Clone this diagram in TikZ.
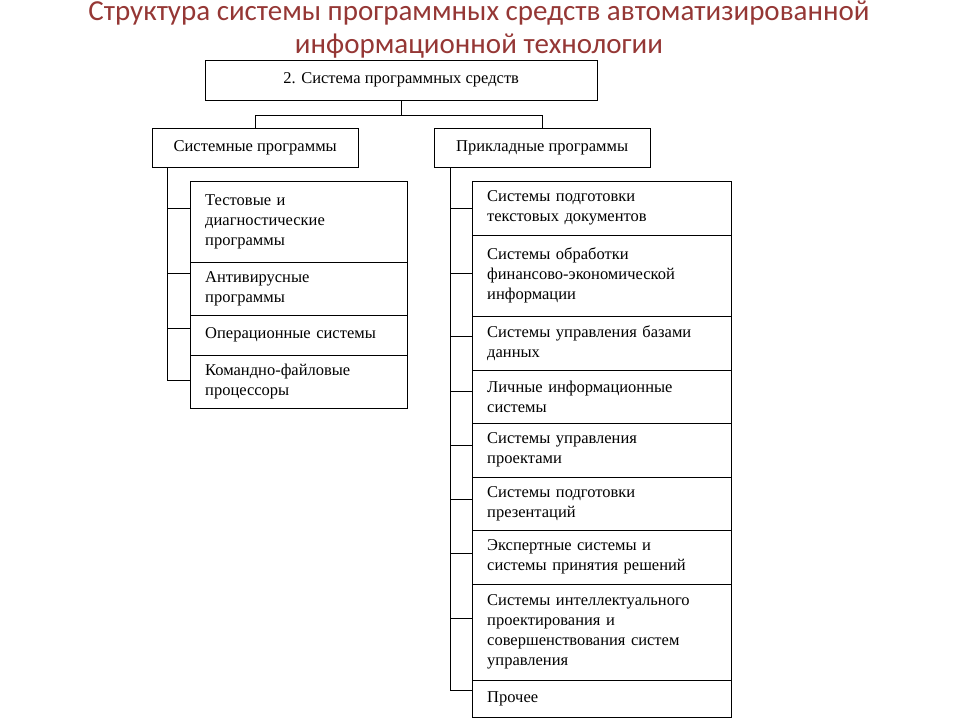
\documentclass[tikz,border=0pt]{standalone}
\usepackage{fontspec}
\setmainfont{Liberation Serif}
\newfontfamily\titlefont{Carlito}
\definecolor{titlered}{HTML}{953735}
\begin{document}
\begin{tikzpicture}[x=1pt,y=-1pt, thin,
  box/.style={draw, anchor=north west, inner xsep=15pt, align=left, font=\fontsize{16.5}{20}\selectfont},
  head/.style={draw, anchor=north west, align=center, font=\fontsize{16.5}{20}\selectfont}]
  \useasboundingbox (0,0) rectangle (960,720);
  % title
  \node[text=titlered, align=center, font=\titlefont\fontsize{29}{33}\selectfont] (title) at (479,30)
    {Структура системы программных средств автоматизированной\\информационной технологии};
  % nodes
  \node[head, minimum width=392, minimum height=40] (top) at (205,60) {2. Система программных средств};
  \node[head, minimum width=206, minimum height=39] (sys) at (152,128) {Системные программы};
  \node[head, minimum width=216, minimum height=39] (app) at (434,128) {Прикладные программы};
  % system programs
  \node[box, text width=187, minimum height=81] (s1) at (190,181) {Тестовые и\\диагностические\\программы};
  \node[box, text width=187, minimum height=53] (s2) at (190,262) {Антивирусные\\программы};
  \node[box, text width=187, minimum height=40] (s3) at (190,315) {Операционные системы};
  \node[box, text width=187, minimum height=53] (s4) at (190,355) {Командно-файловые\\процессоры};
  % application programs
  \node[box, text width=229, minimum height=54] (a1) at (472,181) {Системы подготовки\\текстовых документов};
  \node[box, text width=229, minimum height=81] (a2) at (472,235) {Системы обработки\\финансово-экономической\\информации};
  \node[box, text width=229, minimum height=54] (a3) at (472,316) {Системы управления базами\\данных};
  \node[box, text width=229, minimum height=53] (a4) at (472,370) {Личные информационные\\системы};
  \node[box, text width=229, minimum height=54] (a5) at (472,423) {Системы управления\\проектами};
  \node[box, text width=229, minimum height=53] (a6) at (472,477) {Системы подготовки\\презентаций};
  \node[box, text width=229, minimum height=54] (a7) at (472,530) {Экспертные системы и\\системы принятия решений};
  \node[box, text width=229, minimum height=96] (a8) at (472,584) {Системы интеллектуального\\проектирования и\\совершенствования систем\\управления};
  \node[box, text width=229, minimum height=37] (a9) at (472,680) {Прочее};
  % connectors
  \coordinate (fork) at ([yshift=-15]top.south);
  \draw (top.south) -- (fork) -| (sys.north);
  \draw (fork) -| (app.north);
  \coordinate (ltop) at ([xshift=15]sys.south west);
  \coordinate (lbot) at ([xshift=15,yshift=-213]sys.south west);
  \coordinate (rtop) at ([xshift=16]app.south west);
  \coordinate (rbot) at ([xshift=16,yshift=-523]app.south west);
  \draw (ltop) -- (lbot);
  \draw (rtop) -- (rbot);
  \foreach \n/\y in {1/208,2/273,3/328,4/380}
    \draw (lbot |- 0,\y) -- (s\n.west |- 0,\y);
  \foreach \n/\y in {1/208,2/273,3/336,4/391,5/445,6/499,7/553,8/618,9/690}
    \draw (rbot |- 0,\y) -- (a\n.west |- 0,\y);
\end{tikzpicture}
\end{document}
